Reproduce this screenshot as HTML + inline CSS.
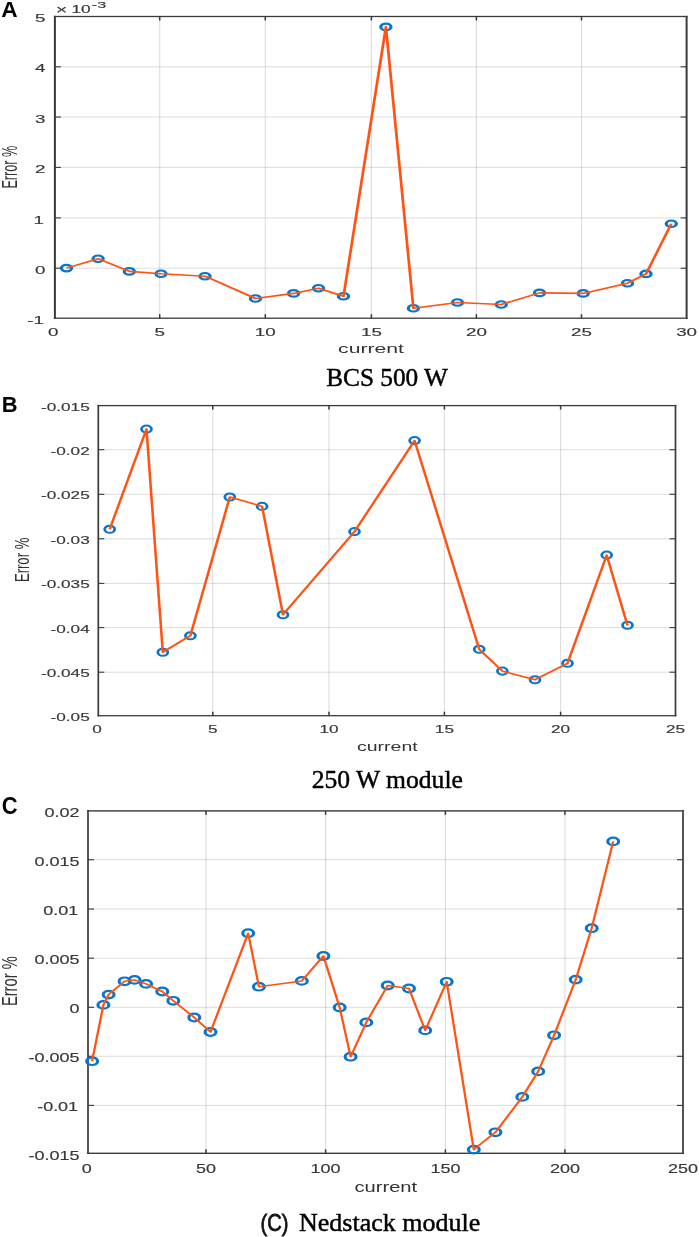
<!DOCTYPE html>
<html><head><meta charset="utf-8"><style>
html,body{margin:0;padding:0;background:#fff;width:699px;height:1237px;overflow:hidden}
svg{display:block;filter:blur(0.55px)}
.tk{font-family:"Liberation Sans",sans-serif;fill:#383838;stroke:#383838;stroke-width:0.15px}
.tk2{font-family:"Liberation Sans",sans-serif;fill:#111;stroke:#111;stroke-width:0.8px}
.pl{font-family:"Liberation Sans",sans-serif;font-weight:bold;fill:#000}
.cap{font-family:"Liberation Serif",serif;fill:#000;stroke:#000;stroke-width:0.45px}
.lb{font-family:"Liberation Sans",sans-serif;fill:#333}
</style></head><body>
<svg width="699" height="1237" viewBox="0 0 699 1237">
<rect width="699" height="1237" fill="#fff"/>
<rect x="159.10" y="16.50" width="1.2" height="301.70" fill="#000" fill-opacity="0.125"/>
<rect x="264.70" y="16.50" width="1.2" height="301.70" fill="#000" fill-opacity="0.125"/>
<rect x="370.80" y="16.50" width="1.2" height="301.70" fill="#000" fill-opacity="0.125"/>
<rect x="475.80" y="16.50" width="1.2" height="301.70" fill="#000" fill-opacity="0.125"/>
<rect x="580.90" y="16.50" width="1.2" height="301.70" fill="#000" fill-opacity="0.125"/>
<rect x="54.90" y="267.65" width="631.70" height="1.1" fill="#000" fill-opacity="0.125"/>
<rect x="54.90" y="217.35" width="631.70" height="1.1" fill="#000" fill-opacity="0.125"/>
<rect x="54.90" y="166.85" width="631.70" height="1.1" fill="#000" fill-opacity="0.125"/>
<rect x="54.90" y="116.45" width="631.70" height="1.1" fill="#000" fill-opacity="0.125"/>
<rect x="54.90" y="66.25" width="631.70" height="1.1" fill="#000" fill-opacity="0.125"/>
<rect x="53.90" y="15.85" width="2.00" height="303.00" fill="#3a3a3a"/>
<rect x="685.60" y="15.85" width="2.00" height="303.00" fill="#3a3a3a"/>
<rect x="53.90" y="15.85" width="633.70" height="1.30" fill="#3a3a3a"/>
<rect x="53.90" y="317.55" width="633.70" height="1.30" fill="#3a3a3a"/>
<rect x="158.95" y="314.20" width="1.5" height="4" fill="#3a3a3a"/>
<rect x="158.95" y="16.50" width="1.5" height="4" fill="#3a3a3a"/>
<rect x="264.55" y="314.20" width="1.5" height="4" fill="#3a3a3a"/>
<rect x="264.55" y="16.50" width="1.5" height="4" fill="#3a3a3a"/>
<rect x="370.65" y="314.20" width="1.5" height="4" fill="#3a3a3a"/>
<rect x="370.65" y="16.50" width="1.5" height="4" fill="#3a3a3a"/>
<rect x="475.65" y="314.20" width="1.5" height="4" fill="#3a3a3a"/>
<rect x="475.65" y="16.50" width="1.5" height="4" fill="#3a3a3a"/>
<rect x="580.75" y="314.20" width="1.5" height="4" fill="#3a3a3a"/>
<rect x="580.75" y="16.50" width="1.5" height="4" fill="#3a3a3a"/>
<rect x="54.90" y="267.65" width="6" height="1.1" fill="#3a3a3a"/>
<rect x="680.60" y="267.65" width="6" height="1.1" fill="#3a3a3a"/>
<rect x="54.90" y="217.35" width="6" height="1.1" fill="#3a3a3a"/>
<rect x="680.60" y="217.35" width="6" height="1.1" fill="#3a3a3a"/>
<rect x="54.90" y="166.85" width="6" height="1.1" fill="#3a3a3a"/>
<rect x="680.60" y="166.85" width="6" height="1.1" fill="#3a3a3a"/>
<rect x="54.90" y="116.45" width="6" height="1.1" fill="#3a3a3a"/>
<rect x="680.60" y="116.45" width="6" height="1.1" fill="#3a3a3a"/>
<rect x="54.90" y="66.25" width="6" height="1.1" fill="#3a3a3a"/>
<rect x="680.60" y="66.25" width="6" height="1.1" fill="#3a3a3a"/>
<text transform="translate(53.30,335.50) scale(1.68,1)" text-anchor="middle" class="tk" font-size="11.2">0</text>
<text transform="translate(159.70,335.50) scale(1.68,1)" text-anchor="middle" class="tk" font-size="11.2">5</text>
<text transform="translate(265.30,335.50) scale(1.68,1)" text-anchor="middle" class="tk" font-size="11.2">10</text>
<text transform="translate(371.40,335.50) scale(1.68,1)" text-anchor="middle" class="tk" font-size="11.2">15</text>
<text transform="translate(476.40,335.50) scale(1.68,1)" text-anchor="middle" class="tk" font-size="11.2">20</text>
<text transform="translate(581.50,335.50) scale(1.68,1)" text-anchor="middle" class="tk" font-size="11.2">25</text>
<text transform="translate(686.60,335.50) scale(1.68,1)" text-anchor="middle" class="tk" font-size="11.2">30</text>
<text transform="translate(44.08,324.30) scale(1.68,1)" text-anchor="end" class="tk" font-size="11.2">-1</text>
<text transform="translate(45.40,273.80) scale(1.68,1)" text-anchor="end" class="tk" font-size="11.2">0</text>
<text transform="translate(44.08,223.50) scale(1.68,1)" text-anchor="end" class="tk" font-size="11.2">1</text>
<text transform="translate(45.40,173.00) scale(1.68,1)" text-anchor="end" class="tk" font-size="11.2">2</text>
<text transform="translate(45.40,122.60) scale(1.68,1)" text-anchor="end" class="tk" font-size="11.2">3</text>
<text transform="translate(45.40,72.40) scale(1.68,1)" text-anchor="end" class="tk" font-size="11.2">4</text>
<text transform="translate(45.40,22.10) scale(1.68,1)" text-anchor="end" class="tk" font-size="11.2">5</text>
<text transform="translate(371.00,353.30) scale(1.72,1)" text-anchor="middle" class="lb" font-size="12.3">current</text>
<text transform="translate(17.10,167.10) scale(1.7,1) rotate(-90)" text-anchor="middle" class="lb" font-size="12.7">Error %</text>
<g transform="scale(1.56,1)">
<circle cx="42.628" cy="268.10" r="3.25" fill="none" stroke="#0876cc" stroke-width="2.1"/>
<circle cx="62.885" cy="258.70" r="3.25" fill="none" stroke="#0876cc" stroke-width="2.1"/>
<circle cx="82.885" cy="271.40" r="3.25" fill="none" stroke="#0876cc" stroke-width="2.1"/>
<circle cx="103.205" cy="273.80" r="3.25" fill="none" stroke="#0876cc" stroke-width="2.1"/>
<circle cx="131.410" cy="276.20" r="3.25" fill="none" stroke="#0876cc" stroke-width="2.1"/>
<circle cx="163.782" cy="298.50" r="3.25" fill="none" stroke="#0876cc" stroke-width="2.1"/>
<circle cx="188.205" cy="293.40" r="3.25" fill="none" stroke="#0876cc" stroke-width="2.1"/>
<circle cx="204.167" cy="288.20" r="3.25" fill="none" stroke="#0876cc" stroke-width="2.1"/>
<circle cx="220.192" cy="296.30" r="3.25" fill="none" stroke="#0876cc" stroke-width="2.1"/>
<circle cx="247.372" cy="26.90" r="3.25" fill="none" stroke="#0876cc" stroke-width="2.1"/>
<circle cx="265.000" cy="308.30" r="3.25" fill="none" stroke="#0876cc" stroke-width="2.1"/>
<circle cx="293.269" cy="302.50" r="3.25" fill="none" stroke="#0876cc" stroke-width="2.1"/>
<circle cx="321.346" cy="304.50" r="3.25" fill="none" stroke="#0876cc" stroke-width="2.1"/>
<circle cx="345.833" cy="292.90" r="3.25" fill="none" stroke="#0876cc" stroke-width="2.1"/>
<circle cx="373.846" cy="293.40" r="3.25" fill="none" stroke="#0876cc" stroke-width="2.1"/>
<circle cx="402.244" cy="283.20" r="3.25" fill="none" stroke="#0876cc" stroke-width="2.1"/>
<circle cx="414.103" cy="273.90" r="3.25" fill="none" stroke="#0876cc" stroke-width="2.1"/>
<circle cx="430.321" cy="223.80" r="3.25" fill="none" stroke="#0876cc" stroke-width="2.1"/>
</g>
<g transform="scale(1.7,1)">
<polyline points="39.118,268.10 57.706,258.70 76.059,271.40 94.706,273.80 120.588,276.20 150.294,298.50 172.706,293.40 187.353,288.20 202.059,296.30 227.000,26.90 243.176,308.30 269.118,302.50 294.882,304.50 317.353,292.90 343.059,293.40 369.118,283.20 380.000,273.90 394.882,223.80" fill="none" stroke="#ff5314" stroke-width="1.6" stroke-linejoin="round"/>
</g>
<rect x="212.20" y="405.60" width="1.2" height="310.10" fill="#000" fill-opacity="0.125"/>
<rect x="328.40" y="405.60" width="1.2" height="310.10" fill="#000" fill-opacity="0.125"/>
<rect x="443.80" y="405.60" width="1.2" height="310.10" fill="#000" fill-opacity="0.125"/>
<rect x="560.00" y="405.60" width="1.2" height="310.10" fill="#000" fill-opacity="0.125"/>
<rect x="98.30" y="671.65" width="577.20" height="1.1" fill="#000" fill-opacity="0.125"/>
<rect x="98.30" y="627.05" width="577.20" height="1.1" fill="#000" fill-opacity="0.125"/>
<rect x="98.30" y="582.85" width="577.20" height="1.1" fill="#000" fill-opacity="0.125"/>
<rect x="98.30" y="538.25" width="577.20" height="1.1" fill="#000" fill-opacity="0.125"/>
<rect x="98.30" y="493.75" width="577.20" height="1.1" fill="#000" fill-opacity="0.125"/>
<rect x="98.30" y="449.15" width="577.20" height="1.1" fill="#000" fill-opacity="0.125"/>
<rect x="97.45" y="404.95" width="1.70" height="311.40" fill="#3a3a3a"/>
<rect x="674.65" y="404.95" width="1.70" height="311.40" fill="#3a3a3a"/>
<rect x="97.45" y="404.95" width="578.90" height="1.30" fill="#3a3a3a"/>
<rect x="97.45" y="715.05" width="578.90" height="1.30" fill="#3a3a3a"/>
<rect x="212.05" y="711.70" width="1.5" height="4" fill="#3a3a3a"/>
<rect x="212.05" y="405.60" width="1.5" height="4" fill="#3a3a3a"/>
<rect x="328.25" y="711.70" width="1.5" height="4" fill="#3a3a3a"/>
<rect x="328.25" y="405.60" width="1.5" height="4" fill="#3a3a3a"/>
<rect x="443.65" y="711.70" width="1.5" height="4" fill="#3a3a3a"/>
<rect x="443.65" y="405.60" width="1.5" height="4" fill="#3a3a3a"/>
<rect x="559.85" y="711.70" width="1.5" height="4" fill="#3a3a3a"/>
<rect x="559.85" y="405.60" width="1.5" height="4" fill="#3a3a3a"/>
<rect x="98.30" y="671.65" width="6" height="1.1" fill="#3a3a3a"/>
<rect x="669.50" y="671.65" width="6" height="1.1" fill="#3a3a3a"/>
<rect x="98.30" y="627.05" width="6" height="1.1" fill="#3a3a3a"/>
<rect x="669.50" y="627.05" width="6" height="1.1" fill="#3a3a3a"/>
<rect x="98.30" y="582.85" width="6" height="1.1" fill="#3a3a3a"/>
<rect x="669.50" y="582.85" width="6" height="1.1" fill="#3a3a3a"/>
<rect x="98.30" y="538.25" width="6" height="1.1" fill="#3a3a3a"/>
<rect x="669.50" y="538.25" width="6" height="1.1" fill="#3a3a3a"/>
<rect x="98.30" y="493.75" width="6" height="1.1" fill="#3a3a3a"/>
<rect x="669.50" y="493.75" width="6" height="1.1" fill="#3a3a3a"/>
<rect x="98.30" y="449.15" width="6" height="1.1" fill="#3a3a3a"/>
<rect x="669.50" y="449.15" width="6" height="1.1" fill="#3a3a3a"/>
<text transform="translate(97.00,733.40) scale(1.55,1)" text-anchor="middle" class="tk" font-size="11.1">0</text>
<text transform="translate(212.80,733.40) scale(1.55,1)" text-anchor="middle" class="tk" font-size="11.1">5</text>
<text transform="translate(329.00,733.40) scale(1.55,1)" text-anchor="middle" class="tk" font-size="11.1">10</text>
<text transform="translate(444.40,733.40) scale(1.55,1)" text-anchor="middle" class="tk" font-size="11.1">15</text>
<text transform="translate(560.60,733.40) scale(1.55,1)" text-anchor="middle" class="tk" font-size="11.1">20</text>
<text transform="translate(675.50,733.40) scale(1.55,1)" text-anchor="middle" class="tk" font-size="11.1">25</text>
<text transform="translate(89.70,721.40) scale(1.55,1)" text-anchor="end" class="tk" font-size="11.1">-0.05</text>
<text transform="translate(89.70,677.10) scale(1.55,1)" text-anchor="end" class="tk" font-size="11.1">-0.045</text>
<text transform="translate(89.70,632.50) scale(1.55,1)" text-anchor="end" class="tk" font-size="11.1">-0.04</text>
<text transform="translate(89.70,588.30) scale(1.55,1)" text-anchor="end" class="tk" font-size="11.1">-0.035</text>
<text transform="translate(89.70,543.70) scale(1.55,1)" text-anchor="end" class="tk" font-size="11.1">-0.03</text>
<text transform="translate(89.70,499.20) scale(1.55,1)" text-anchor="end" class="tk" font-size="11.1">-0.025</text>
<text transform="translate(89.70,454.60) scale(1.55,1)" text-anchor="end" class="tk" font-size="11.1">-0.02</text>
<text transform="translate(89.70,410.50) scale(1.55,1)" text-anchor="end" class="tk" font-size="11.1">-0.015</text>
<text transform="translate(387.30,750.90) scale(1.6,1)" text-anchor="middle" class="lb" font-size="12.2">current</text>
<text transform="translate(29.10,559.90) scale(1.52,1) rotate(-90)" text-anchor="middle" class="lb" font-size="13.1">Error %</text>
<g transform="scale(1.4,1)">
<circle cx="78.357" cy="529.20" r="3.55" fill="none" stroke="#0876cc" stroke-width="2.0"/>
<circle cx="104.643" cy="429.10" r="3.55" fill="none" stroke="#0876cc" stroke-width="2.0"/>
<circle cx="116.286" cy="652.20" r="3.55" fill="none" stroke="#0876cc" stroke-width="2.0"/>
<circle cx="136.000" cy="635.70" r="3.55" fill="none" stroke="#0876cc" stroke-width="2.0"/>
<circle cx="164.143" cy="497.00" r="3.55" fill="none" stroke="#0876cc" stroke-width="2.0"/>
<circle cx="187.214" cy="506.40" r="3.55" fill="none" stroke="#0876cc" stroke-width="2.0"/>
<circle cx="202.143" cy="614.70" r="3.55" fill="none" stroke="#0876cc" stroke-width="2.0"/>
<circle cx="253.214" cy="531.60" r="3.55" fill="none" stroke="#0876cc" stroke-width="2.0"/>
<circle cx="296.143" cy="440.60" r="3.55" fill="none" stroke="#0876cc" stroke-width="2.0"/>
<circle cx="342.286" cy="649.20" r="3.55" fill="none" stroke="#0876cc" stroke-width="2.0"/>
<circle cx="358.857" cy="671.10" r="3.55" fill="none" stroke="#0876cc" stroke-width="2.0"/>
<circle cx="382.143" cy="679.70" r="3.55" fill="none" stroke="#0876cc" stroke-width="2.0"/>
<circle cx="405.357" cy="663.30" r="3.55" fill="none" stroke="#0876cc" stroke-width="2.0"/>
<circle cx="433.357" cy="555.10" r="3.55" fill="none" stroke="#0876cc" stroke-width="2.0"/>
<circle cx="448.214" cy="625.30" r="3.55" fill="none" stroke="#0876cc" stroke-width="2.0"/>
</g>
<g transform="scale(1.55,1)">
<polyline points="70.774,529.20 94.516,429.10 105.032,652.20 122.839,635.70 148.258,497.00 169.097,506.40 182.581,614.70 228.710,531.60 267.484,440.60 309.161,649.20 324.129,671.10 345.161,679.70 366.129,663.30 391.419,555.10 404.839,625.30" fill="none" stroke="#ff5314" stroke-width="1.65" stroke-linejoin="round"/>
</g>
<rect x="205.40" y="810.90" width="1.2" height="342.40" fill="#000" fill-opacity="0.125"/>
<rect x="325.00" y="810.90" width="1.2" height="342.40" fill="#000" fill-opacity="0.125"/>
<rect x="444.80" y="810.90" width="1.2" height="342.40" fill="#000" fill-opacity="0.125"/>
<rect x="564.30" y="810.90" width="1.2" height="342.40" fill="#000" fill-opacity="0.125"/>
<rect x="88.00" y="1104.85" width="595.00" height="1.1" fill="#000" fill-opacity="0.125"/>
<rect x="88.00" y="1055.75" width="595.00" height="1.1" fill="#000" fill-opacity="0.125"/>
<rect x="88.00" y="1006.75" width="595.00" height="1.1" fill="#000" fill-opacity="0.125"/>
<rect x="88.00" y="957.65" width="595.00" height="1.1" fill="#000" fill-opacity="0.125"/>
<rect x="88.00" y="908.45" width="595.00" height="1.1" fill="#000" fill-opacity="0.125"/>
<rect x="88.00" y="859.15" width="595.00" height="1.1" fill="#000" fill-opacity="0.125"/>
<rect x="87.15" y="810.20" width="1.70" height="343.80" fill="#3a3a3a"/>
<rect x="682.15" y="810.20" width="1.70" height="343.80" fill="#3a3a3a"/>
<rect x="87.15" y="810.20" width="596.70" height="1.40" fill="#3a3a3a"/>
<rect x="87.15" y="1152.60" width="596.70" height="1.40" fill="#3a3a3a"/>
<rect x="205.25" y="1149.30" width="1.5" height="4" fill="#3a3a3a"/>
<rect x="205.25" y="810.90" width="1.5" height="4" fill="#3a3a3a"/>
<rect x="324.85" y="1149.30" width="1.5" height="4" fill="#3a3a3a"/>
<rect x="324.85" y="810.90" width="1.5" height="4" fill="#3a3a3a"/>
<rect x="444.65" y="1149.30" width="1.5" height="4" fill="#3a3a3a"/>
<rect x="444.65" y="810.90" width="1.5" height="4" fill="#3a3a3a"/>
<rect x="564.15" y="1149.30" width="1.5" height="4" fill="#3a3a3a"/>
<rect x="564.15" y="810.90" width="1.5" height="4" fill="#3a3a3a"/>
<rect x="88.00" y="1104.85" width="6" height="1.1" fill="#3a3a3a"/>
<rect x="677.00" y="1104.85" width="6" height="1.1" fill="#3a3a3a"/>
<rect x="88.00" y="1055.75" width="6" height="1.1" fill="#3a3a3a"/>
<rect x="677.00" y="1055.75" width="6" height="1.1" fill="#3a3a3a"/>
<rect x="88.00" y="1006.75" width="6" height="1.1" fill="#3a3a3a"/>
<rect x="677.00" y="1006.75" width="6" height="1.1" fill="#3a3a3a"/>
<rect x="88.00" y="957.65" width="6" height="1.1" fill="#3a3a3a"/>
<rect x="677.00" y="957.65" width="6" height="1.1" fill="#3a3a3a"/>
<rect x="88.00" y="908.45" width="6" height="1.1" fill="#3a3a3a"/>
<rect x="677.00" y="908.45" width="6" height="1.1" fill="#3a3a3a"/>
<rect x="88.00" y="859.15" width="6" height="1.1" fill="#3a3a3a"/>
<rect x="677.00" y="859.15" width="6" height="1.1" fill="#3a3a3a"/>
<text transform="translate(86.70,1172.50) scale(1.5,1)" text-anchor="middle" class="tk" font-size="12.0">0</text>
<text transform="translate(206.00,1172.50) scale(1.5,1)" text-anchor="middle" class="tk" font-size="12.0">50</text>
<text transform="translate(325.60,1172.50) scale(1.5,1)" text-anchor="middle" class="tk" font-size="12.0">100</text>
<text transform="translate(445.40,1172.50) scale(1.5,1)" text-anchor="middle" class="tk" font-size="12.0">150</text>
<text transform="translate(564.90,1172.50) scale(1.5,1)" text-anchor="middle" class="tk" font-size="12.0">200</text>
<text transform="translate(683.00,1172.50) scale(1.5,1)" text-anchor="middle" class="tk" font-size="12.0">250</text>
<text transform="translate(79.40,1160.30) scale(1.5,1)" text-anchor="end" class="tk" font-size="12.0">-0.015</text>
<text transform="translate(78.14,1111.20) scale(1.5,1)" text-anchor="end" class="tk" font-size="12.0">-0.01</text>
<text transform="translate(79.40,1062.10) scale(1.5,1)" text-anchor="end" class="tk" font-size="12.0">-0.005</text>
<text transform="translate(79.40,1013.10) scale(1.5,1)" text-anchor="end" class="tk" font-size="12.0">0</text>
<text transform="translate(79.40,964.00) scale(1.5,1)" text-anchor="end" class="tk" font-size="12.0">0.005</text>
<text transform="translate(78.14,914.80) scale(1.5,1)" text-anchor="end" class="tk" font-size="12.0">0.01</text>
<text transform="translate(79.40,865.50) scale(1.5,1)" text-anchor="end" class="tk" font-size="12.0">0.015</text>
<text transform="translate(79.40,816.70) scale(1.5,1)" text-anchor="end" class="tk" font-size="12.0">0.02</text>
<text transform="translate(385.80,1192.30) scale(1.45,1)" text-anchor="middle" class="lb" font-size="13.9">current</text>
<text transform="translate(17.00,981.20) scale(1.45,1) rotate(-90)" text-anchor="middle" class="lb" font-size="14.7">Error %</text>
<g transform="scale(1.43,1)">
<circle cx="64.406" cy="1061.20" r="3.8" fill="none" stroke="#0876cc" stroke-width="2.2"/>
<circle cx="72.308" cy="1004.90" r="3.8" fill="none" stroke="#0876cc" stroke-width="2.2"/>
<circle cx="75.944" cy="994.60" r="3.8" fill="none" stroke="#0876cc" stroke-width="2.2"/>
<circle cx="87.133" cy="981.30" r="3.8" fill="none" stroke="#0876cc" stroke-width="2.2"/>
<circle cx="94.126" cy="979.90" r="3.8" fill="none" stroke="#0876cc" stroke-width="2.2"/>
<circle cx="102.168" cy="983.90" r="3.8" fill="none" stroke="#0876cc" stroke-width="2.2"/>
<circle cx="113.497" cy="991.50" r="3.8" fill="none" stroke="#0876cc" stroke-width="2.2"/>
<circle cx="121.189" cy="1000.80" r="3.8" fill="none" stroke="#0876cc" stroke-width="2.2"/>
<circle cx="135.874" cy="1017.50" r="3.8" fill="none" stroke="#0876cc" stroke-width="2.2"/>
<circle cx="147.203" cy="1032.00" r="3.8" fill="none" stroke="#0876cc" stroke-width="2.2"/>
<circle cx="173.566" cy="933.20" r="3.8" fill="none" stroke="#0876cc" stroke-width="2.2"/>
<circle cx="181.049" cy="986.70" r="3.8" fill="none" stroke="#0876cc" stroke-width="2.2"/>
<circle cx="211.049" cy="980.90" r="3.8" fill="none" stroke="#0876cc" stroke-width="2.2"/>
<circle cx="226.154" cy="956.00" r="3.8" fill="none" stroke="#0876cc" stroke-width="2.2"/>
<circle cx="237.552" cy="1007.50" r="3.8" fill="none" stroke="#0876cc" stroke-width="2.2"/>
<circle cx="245.175" cy="1056.70" r="3.8" fill="none" stroke="#0876cc" stroke-width="2.2"/>
<circle cx="256.154" cy="1022.40" r="3.8" fill="none" stroke="#0876cc" stroke-width="2.2"/>
<circle cx="271.119" cy="985.50" r="3.8" fill="none" stroke="#0876cc" stroke-width="2.2"/>
<circle cx="286.014" cy="988.50" r="3.8" fill="none" stroke="#0876cc" stroke-width="2.2"/>
<circle cx="297.343" cy="1030.40" r="3.8" fill="none" stroke="#0876cc" stroke-width="2.2"/>
<circle cx="312.378" cy="981.80" r="3.8" fill="none" stroke="#0876cc" stroke-width="2.2"/>
<circle cx="331.329" cy="1149.60" r="3.8" fill="none" stroke="#0876cc" stroke-width="2.2"/>
<circle cx="346.434" cy="1132.30" r="3.8" fill="none" stroke="#0876cc" stroke-width="2.2"/>
<circle cx="365.245" cy="1096.90" r="3.8" fill="none" stroke="#0876cc" stroke-width="2.2"/>
<circle cx="376.364" cy="1071.40" r="3.8" fill="none" stroke="#0876cc" stroke-width="2.2"/>
<circle cx="387.483" cy="1035.30" r="3.8" fill="none" stroke="#0876cc" stroke-width="2.2"/>
<circle cx="402.587" cy="979.60" r="3.8" fill="none" stroke="#0876cc" stroke-width="2.2"/>
<circle cx="413.776" cy="928.20" r="3.8" fill="none" stroke="#0876cc" stroke-width="2.2"/>
<circle cx="428.811" cy="841.40" r="3.8" fill="none" stroke="#0876cc" stroke-width="2.2"/>
</g>
<g transform="scale(1.47,1)">
<polyline points="62.653,1061.20 70.340,1004.90 73.878,994.60 84.762,981.30 91.565,979.90 99.388,983.90 110.408,991.50 117.891,1000.80 132.177,1017.50 143.197,1032.00 168.844,933.20 176.122,986.70 205.306,980.90 220.000,956.00 231.088,1007.50 238.503,1056.70 249.184,1022.40 263.741,985.50 278.231,988.50 289.252,1030.40 303.878,981.80 322.313,1149.60 337.007,1132.30 355.306,1096.90 366.122,1071.40 376.939,1035.30 391.633,979.60 402.517,928.20 417.143,841.40" fill="none" stroke="#ff5314" stroke-width="1.55" stroke-linejoin="round"/>
</g>
<text transform="translate(55.90,14.40) scale(1.6,1)" text-anchor="start" class="tk" font-size="12.0">×</text>
<text transform="translate(71.40,13.40) scale(1.68,1)" text-anchor="start" class="tk" font-size="10.3">10</text>
<text transform="translate(91.80,7.90) scale(1.75,1)" text-anchor="start" class="tk" font-size="9.3">-3</text>
<text x="1.3" y="17.0" class="pl" font-size="22.7">A</text>
<text transform="translate(1.7,411.9) scale(0.97,1)" class="pl" font-size="22.6">B</text>
<text transform="translate(1.8,814.4) scale(0.905,1)" class="pl" font-size="24.2">C</text>
<text x="387.1" y="385.6" text-anchor="middle" class="cap" font-size="25.3">BCS 500 W</text>
<text x="387.3" y="787.8" text-anchor="middle" class="cap" font-size="25.6">250 W module</text>
<text transform="translate(260.5,1230.5) scale(0.82,1)" class="tk2" font-size="24.5">(C)</text>
<text x="299.0" y="1230.5" class="cap" font-size="26.0">Nedstack module</text>
</svg>
</body></html>
